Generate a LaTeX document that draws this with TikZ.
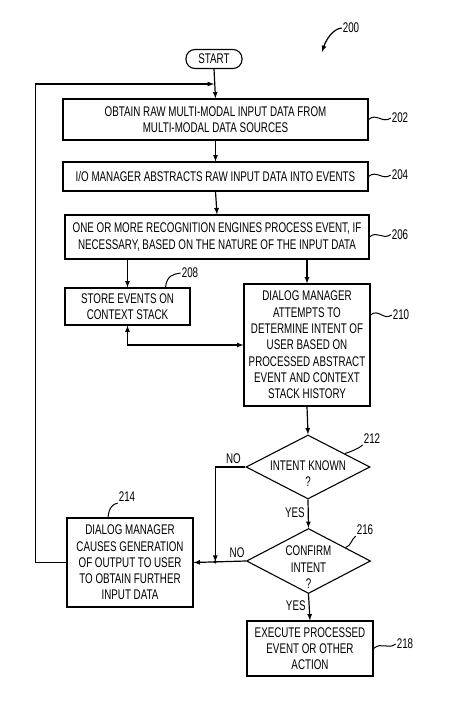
\documentclass[tikz,border=0pt]{standalone}
\usepackage{fontspec}
\setmainfont[FakeStretch=0.7]{Liberation Sans}
\usetikzlibrary{shapes.geometric,positioning}

\begin{document}
\begin{tikzpicture}
[x=1pt, y=-1pt,
 lineDecorate/.style={-latex,line width=1.2pt},
 leadDecorate/.style={line width=1pt},
 boxDecorate/.style={shape=rectangle,draw,line width=1.1pt,align=center,inner sep=1pt,font=\fontsize{14}{16.3}\selectfont},
 diaDecorate/.style={shape=diamond,draw,line width=1.1pt,align=center,inner sep=-6pt,aspect=1.9,font=\fontsize{14}{16.3}\selectfont},
 refDecorate/.style={inner sep=1pt,font=\fontsize{14}{16}\selectfont},
 txtDecorate/.style={inner sep=3pt,font=\fontsize{14}{16}\selectfont}]

\useasboundingbox (0,0) rectangle (474,712);

% steps
\node (start) at (214,59) [boxDecorate, rounded corners=9pt, minimum width=56pt, minimum height=19pt] {START};
\node (b202) at (215.5,119.5) [boxDecorate, minimum width=305pt, minimum height=41pt] {OBTAIN RAW MULTI-MODAL INPUT DATA FROM\\MULTI-MODAL DATA SOURCES};
\node (b204) at (215.5,176.5) [boxDecorate, minimum width=305pt, minimum height=29pt] {I/O MANAGER ABSTRACTS RAW INPUT DATA INTO EVENTS};
\node (b206) at (217,237) [boxDecorate, minimum width=304pt, minimum height=44pt] {ONE OR MORE RECOGNITION ENGINES PROCESS EVENT, IF\\NECESSARY, BASED ON THE NATURE OF THE INPUT DATA};
\node (b208) at (127.5,306.5) [boxDecorate, minimum width=125pt, minimum height=37pt] {STORE EVENTS ON\\CONTEXT STACK};
\node (b210) at (307,345) [boxDecorate, minimum width=126pt, minimum height=122pt] {DIALOG MANAGER\\ATTEMPTS TO\\DETERMINE INTENT OF\\USER BASED ON\\PROCESSED ABSTRACT\\EVENT AND CONTEXT\\STACK HISTORY};
\node (d212) at (308,467) [diaDecorate, minimum width=124pt, minimum height=64pt] {\rule{0pt}{23pt}INTENT KNOWN\\?};
\node (d216) at (308.5,561) [diaDecorate, minimum width=124pt, minimum height=65pt] {\rule{0pt}{22pt}CONFIRM\\INTENT\\?};
\node (b214) at (130,562.5) [boxDecorate, minimum width=126pt, minimum height=89pt] {DIALOG MANAGER\\CAUSES GENERATION\\OF OUTPUT TO USER\\TO OBTAIN FURTHER\\INPUT DATA};
\node (b218) at (310,648.5) [boxDecorate, minimum width=126pt, minimum height=55pt] {EXECUTE PROCESSED\\EVENT OR OTHER\\ACTION};

% reference numbers
\foreach \refname/\x/\y in {
200/351/28,
202/400/118,
204/400/175,
206/400/234.5,
208/190/273,
210/401/315,
212/372/439,
214/127/497,
216/365/530,
218/405/644
 }
 {
          \node (l\refname) at (\x,\y) [refDecorate] {\refname};
 }

% flow
\path
\foreach \startnode/\endnode in {start/b202,b202/b204,b204/b206,b210/d212}
        {
          (\startnode.south) edge[lineDecorate] (\endnode.north)
        };
\draw[lineDecorate] (b206.south -| b208.north) -- (b208.north);
\draw[lineDecorate] (b206.south -| b210.north) -- (b210.north);
\draw[latex-latex,line width=1.2pt] (b208.south) |- (b210.west);
\draw[lineDecorate] (d212.south) -- node[txtDecorate, left, pos=0.45] {YES} (d216.north);
\draw[lineDecorate] (d216.south) -- node[txtDecorate, left, pos=0.45] {YES} (b218.north);
\path (d216.west) -- (b214.east) coordinate[pos=0.585] (joinNo);
\draw[lineDecorate] (d216.west) -- node[txtDecorate, above, pos=0.17] {NO} (b214.east);
\draw[lineDecorate] (d212.west) -| node[txtDecorate, above, pos=0.2] {NO} (joinNo);
\fill (joinNo) circle (1.8pt);
\coordinate (loopIn) at (214,84);
\draw[lineDecorate] (b214.west) -- ++(-31,0) |- (loopIn);

% leaders
\draw[leadDecorate] (b202.east) .. controls +(8,-7) and +(-8,6) .. (l202.west);
\draw[leadDecorate] (b204.east) .. controls +(8,-7) and +(-8,6) .. (l204.west);
\draw[leadDecorate] (b206.east) .. controls +(8,-7) and +(-8,6) .. (l206.west);
\draw[leadDecorate] (b210.east |- l210) .. controls +(8,-7) and +(-8,6) .. (l210.west);
\draw[leadDecorate] (b218.east) .. controls +(8,-7) and +(-8,6) .. (l218.west);
\draw[leadDecorate] ([xshift=-25pt]b208.north east) .. controls +(1,-12) and +(-7,1) .. (l208.west);
\draw[leadDecorate] ([xshift=-22pt]b214.north) .. controls +(1,-10) and +(-5,1) .. (l214.south west);
\draw[leadDecorate] (d212.20) .. controls +(6,-2) and +(-5,4) .. (l212.south west);
\draw[leadDecorate] (d216.20) .. controls +(6,-2) and +(-5,4) .. (l216.south west);
\coordinate (p200) at (322,52);
\draw[lineDecorate] (l200.west) .. controls +(-9,1) and +(4,-12) .. (p200);

\end{tikzpicture}
\end{document}
